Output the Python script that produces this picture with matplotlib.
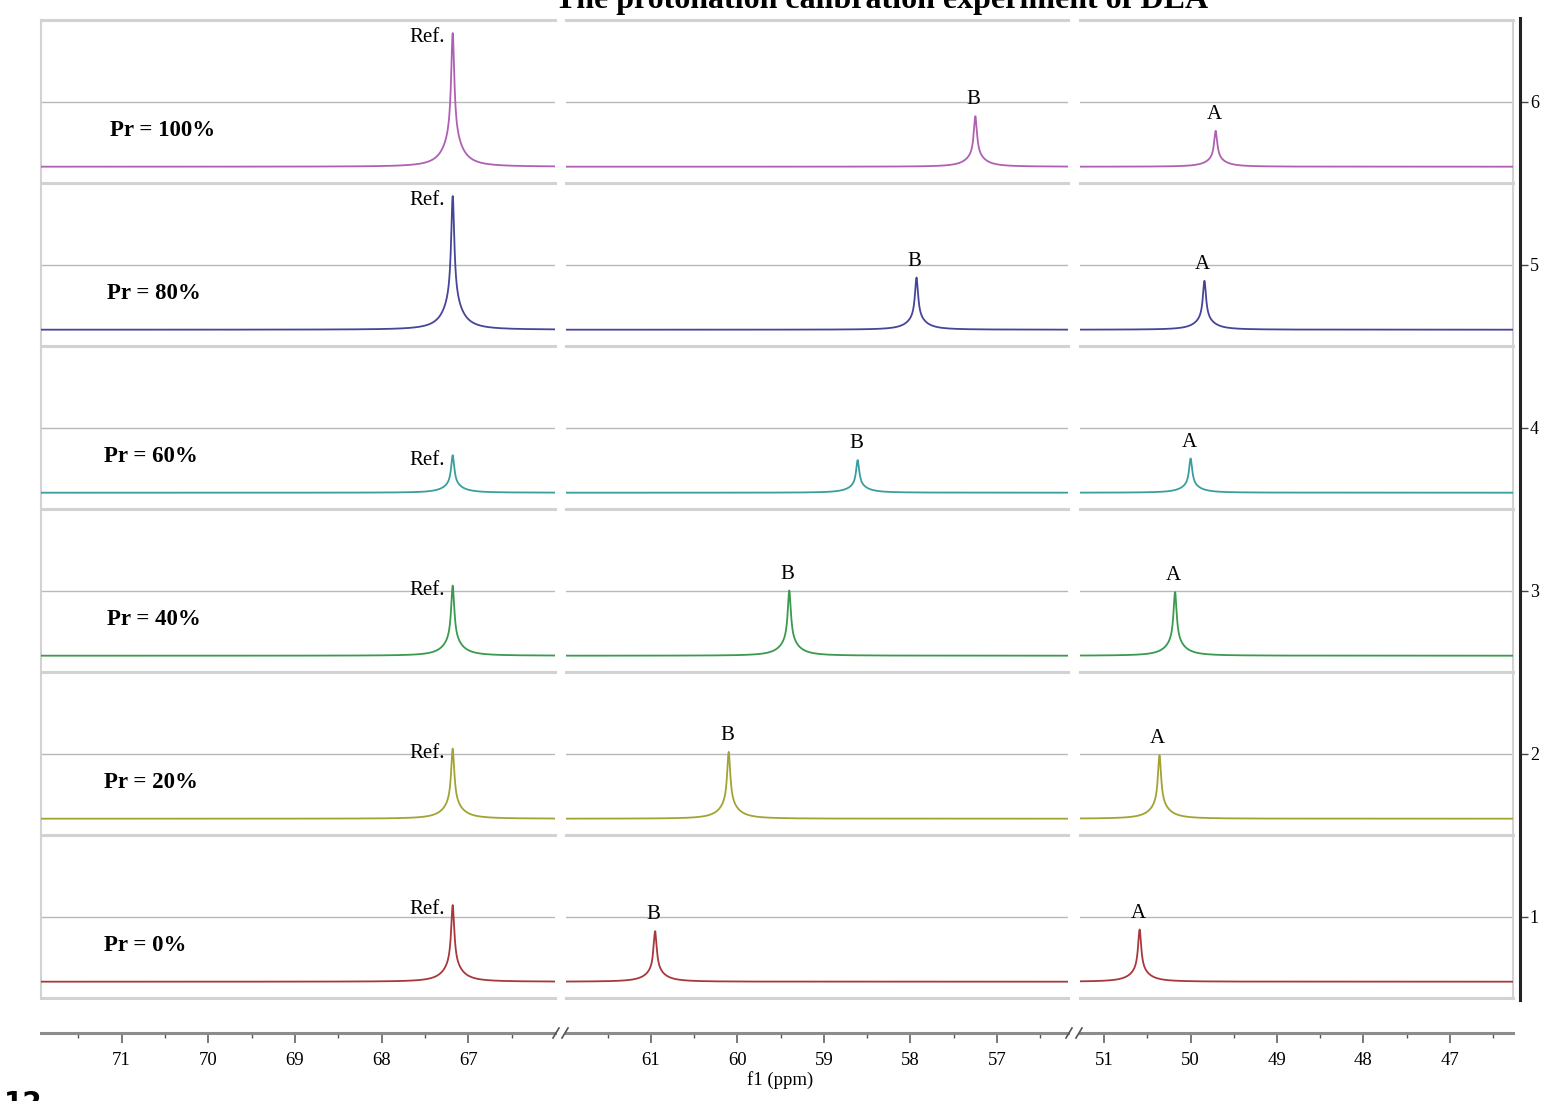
import numpy as np
import matplotlib
matplotlib.use("Agg")
import matplotlib.pyplot as plt
from matplotlib.ticker import FixedLocator

plt.rcParams['font.family'] = ['Liberation Serif', 'DejaVu Serif']

# ---------------- data ----------------
pr_labels = ['Pr = 0%', 'Pr = 20%', 'Pr = 40%', 'Pr = 60%', 'Pr = 80%', 'Pr = 100%']
row_colors = ['#a8383c', '#a3a335', '#3a9a4e', '#3a9e9e', '#45459a', '#b060b4']
ref_shift = [67.18, 67.18, 67.18, 67.18, 67.18, 67.18]
ref_height = [0.47, 0.43, 0.43, 0.23, 0.82, 0.82]
b_shift = [60.95, 60.10, 59.40, 58.61, 57.93, 57.25]
b_height = [0.31, 0.41, 0.40, 0.20, 0.32, 0.31]
a_shift = [50.59, 50.36, 50.18, 50.00, 49.84, 49.71]
a_height = [0.32, 0.39, 0.39, 0.21, 0.30, 0.22]
segments = [(71.93, 66.00), (61.98, 56.18), (51.28, 46.27)]
seg_major_ticks = [[71, 70, 69, 68, 67], [61, 60, 59, 58, 57], [51, 50, 49, 48, 47]]
y_ticks = [1, 2, 3, 4, 5, 6]
title = 'The protonation calibration experiment of DEA'

# ---------------- layout ----------------
W, H = 1556, 1101
fig = plt.figure(figsize=(W / 100, H / 100), dpi=100)
top_px, bot_px = 20, 998
seg_px = [(41, 555), (566, 1068), (1080, 1513)]


def line_shape(x, x0, h):
    # narrow core + broad skirt (Lorentzian components)
    g1, g2 = 0.022, 0.12
    return h * (0.78 * g1**2 / ((x - x0)**2 + g1**2) + 0.22 * g2**2 / ((x - x0)**2 + g2**2))


peaks_per_seg = [
    [(ref_shift, ref_height, 'Ref.')],
    [(b_shift, b_height, 'B')],
    [(a_shift, a_height, 'A')],
]

axes = []
grid_c = '#b8b8b8'
sep_c = '#d2d2d2'
for si, ((xl, xr), (pl, pr)) in enumerate(zip(segments, seg_px)):
    ax = fig.add_axes([pl / W, 1 - bot_px / H, (pr - pl) / W, (bot_px - top_px) / H])
    axes.append(ax)
    ax.set_xlim(xl, xr)
    ax.set_ylim(0.5, 6.5)
    x = np.linspace(xr, xl, 3000)
    for k in range(6):
        base = k + 0.6
        y = np.full_like(x, base)
        for shifts, heights, lab in peaks_per_seg[si]:
            y = y + line_shape(x, shifts[k], heights[k])
        ax.plot(x, y, color=row_colors[k], lw=1.3, zorder=3)
        for shifts, heights, lab in peaks_per_seg[si]:
            top = base + heights[k]
            if lab == 'Ref.':
                ax.text(shifts[k] + 0.09, top - 0.03, lab, ha='right', va='center', fontsize=15, zorder=4)
            else:
                ax.text(shifts[k] + 0.02, top + 0.1, lab, ha='center', va='center', fontsize=15, zorder=4)
    for yv in y_ticks:
        ax.axhline(yv, color=grid_c, lw=1.0, zorder=1)
    for yv in np.arange(0.5, 7.0, 1.0):
        ax.axhline(yv, color=sep_c, lw=2.2, zorder=1, clip_on=False)
    # spines
    ax.spines['top'].set_visible(False)
    ax.spines['left'].set_visible(si == 0)
    ax.spines['left'].set_color(sep_c)
    ax.spines['left'].set_linewidth(1.5)
    ax.spines['right'].set_visible(False)
    ax.spines['bottom'].set_position(('outward', 25))
    ax.spines['bottom'].set_color('#8c8c8c')
    ax.spines['bottom'].set_linewidth(2.2)
    ax.set_yticks([])
    majors = seg_major_ticks[si]
    ax.xaxis.set_major_locator(FixedLocator(majors))
    minors = [m + 0.5 for m in majors] + [min(majors) - 0.5]
    ax.xaxis.set_minor_locator(FixedLocator([m for m in minors if xr < m < xl]))
    ax.tick_params(axis='x', which='major', direction='out', length=7, width=1.1,
                   color='#555555', labelsize=13.5, pad=7)
    ax.tick_params(axis='x', which='minor', direction='out', length=3.5, width=1.0, color='#555555')
    ax.set_facecolor('none')

# right frame edge
axes[2].plot([1, 1], [0, 1], transform=axes[2].transAxes, color=sep_c, lw=1.5, clip_on=False)

# right y axis
rax = fig.add_axes([1520 / W, 1 - 1000 / H, 0.0001, (1000 - 18) / H])
rax.set_ylim(0.5 - 2 / 163.0, 6.5 + 2 / 163.0)
rax.set_xticks([])
for s in ['top', 'bottom', 'left']:
    rax.spines[s].set_visible(False)
rax.spines['right'].set_color('#222222')
rax.spines['right'].set_linewidth(2.2)
rax.yaxis.tick_right()
rax.set_yticks(y_ticks)
rax.tick_params(axis='y', direction='out', length=6, width=1, color='#444444', labelsize=13, pad=1)
rax.set_facecolor('none')

# break marks on the x axis line
ybrk = 1 - 1033 / H
for xp in [556, 565, 1069, 1079]:
    fig.add_artist(plt.Line2D([(xp - 3) / W, (xp + 3) / W], [ybrk - 5 / H, ybrk + 5 / H],
                              color='#555555', lw=1.2))

# row labels
label_x = [71.2, 71.2, 71.17, 71.2, 71.17, 71.13]
for k, lab in enumerate(pr_labels):
    axes[0].text(label_x[k], k + 0.82, lab, ha='left', va='center', fontsize=16.5,
                 fontweight='bold', zorder=4)

fig.text(780 / W, 1 - 1080 / H, 'f1 (ppm)', ha='center', va='center', fontsize=13.5)
fig.text(882 / W, 1 - 8 / H, title, ha='center', va='baseline', fontsize=23, fontweight='bold')
fig.text(4 / W, 1 - 1112 / H, '12', ha='left', va='baseline', fontsize=20, fontweight='bold',
         family=['DejaVu Sans'])

fig.savefig('out.png', dpi=100)
